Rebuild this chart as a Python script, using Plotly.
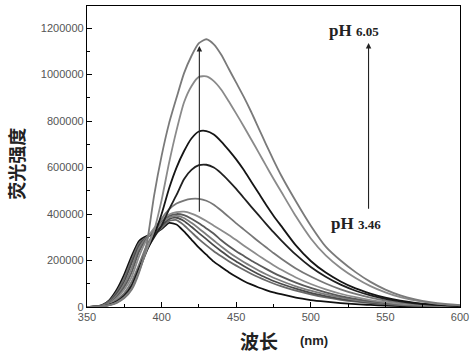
import plotly.graph_objects as go

# wavelengths (nm)
wavelength = [350, 355, 360, 365, 370, 375, 380, 385, 390, 395, 400, 405, 410, 415, 420,
              425, 430, 435, 440, 445, 450, 455, 460, 465, 470, 475, 480, 490, 500, 510,
              520, 530, 540, 550, 560, 570, 580, 590, 600]

# fluorescence intensity, in thousands (pH 3.46 -> pH 6.05)
c1 = [0, 2, 8, 30, 75, 140, 220, 285, 305, 315, 335, 362, 355, 325, 290, 255, 225, 195, 172, 150,
      130, 112, 97, 84, 73, 63, 55, 40, 30, 23, 17, 12, 9, 6, 4, 3, 2, 1, 1]
c2 = [0, 2, 7, 26, 66, 125, 205, 275, 300, 312, 340, 370, 374, 352, 322, 292, 265, 240, 218, 197,
      178, 160, 143, 128, 114, 101, 90, 70, 54, 41, 31, 23, 17, 12, 8, 5, 4, 2, 1]
c3 = [0, 2, 6, 22, 58, 110, 190, 265, 300, 320, 350, 378, 384, 370, 345, 318, 292, 265, 240, 216,
      196, 176, 158, 141, 126, 112, 100, 79, 61, 47, 35, 26, 19, 13, 9, 6, 4, 3, 2]
c4 = [0, 1, 5, 19, 50, 98, 170, 255, 300, 330, 360, 385, 392, 383, 362, 338, 312, 286, 260, 236,
      214, 194, 175, 157, 141, 126, 113, 89, 70, 54, 41, 30, 22, 15, 10, 7, 5, 3, 2]
c5 = [0, 1, 5, 16, 44, 86, 150, 240, 295, 335, 370, 392, 400, 395, 380, 360, 338, 315, 287, 262,
      240, 220, 200, 182, 164, 147, 132, 105, 82, 63, 47, 35, 25, 17, 12, 8, 5, 3, 2]
c6 = [0, 1, 4, 14, 38, 75, 130, 220, 290, 340, 375, 398, 408, 410, 402, 388, 370, 350, 330, 310,
      288, 265, 243, 221, 200, 180, 161, 127, 99, 76, 57, 42, 30, 21, 14, 10, 6, 4, 2]
c7 = [0, 1, 4, 12, 30, 60, 110, 185, 265, 322, 380, 420, 445, 458, 465, 465, 457, 440, 415, 388,
      360, 334, 308, 282, 257, 232, 209, 166, 131, 101, 76, 56, 40, 28, 19, 13, 8, 5, 3]
c8 = [0, 1, 3, 10, 25, 50, 95, 170, 245, 300, 350, 420, 482, 550, 590, 610, 612, 600, 575, 543,
      508, 470, 432, 395, 358, 322, 288, 225, 172, 130, 96, 70, 50, 35, 24, 16, 10, 7, 4]
c9 = [0, 1, 3, 9, 22, 45, 85, 160, 240, 310, 400, 510, 600, 670, 725, 755, 757, 742, 712, 675,
      635, 590, 540, 490, 440, 393, 350, 265, 198, 148, 110, 80, 58, 40, 27, 18, 12, 8, 5]
c10 = [0, 1, 3, 8, 20, 42, 80, 155, 245, 330, 460, 620, 760, 880, 950, 990, 992, 972, 935, 885,
       832, 778, 722, 665, 608, 552, 498, 390, 295, 222, 168, 125, 90, 63, 42, 28, 18, 11, 7]
c11 = [0, 1, 3, 8, 18, 38, 75, 150, 270, 480, 650, 790, 900, 1005, 1080, 1135, 1152, 1130, 1085, 1025,
       965, 905, 840, 770, 700, 632, 568, 455, 350, 260, 200, 150, 108, 75, 50, 33, 21, 13, 8]

series = [c1, c2, c3, c4, c5, c6, c7, c8, c9, c10, c11]
colors = ['#111111', '#6a6a6a', '#4a4a4a', '#7d7d7d', '#5a5a5a', '#8c8c8c',
          '#777777', '#202020', '#151515', '#8a8a8a', '#7a7a7a']

unit = 1000

# annotation labels
ph_low = '3.46'
ph_high = '6.05'
ylabel = '荧光强度'
xlabel = '波长'
xunit = '(nm)'

fig = go.Figure()
for vals, col in zip(series, colors):
    fig.add_trace(go.Scatter(
        x=wavelength, y=[v * unit for v in vals], mode='lines',
        line=dict(color=col, width=1.8, shape='spline', smoothing=0.6),
        showlegend=False, hoverinfo='skip'))

axis_common = dict(
    showline=True, linecolor='black', linewidth=1.3, mirror=True,
    ticks='inside', ticklen=5, tickwidth=1, tickcolor='black',
    showgrid=False, zeroline=False,
    tickfont=dict(family='Liberation Sans, Arial', size=11, color='#555555'),
)

fig.update_layout(
    width=474, height=355,
    margin=dict(l=87, r=12, t=5, b=48),
    paper_bgcolor='white', plot_bgcolor='white',
    xaxis=dict(range=[350, 600], dtick=50, tick0=350,
               minor=dict(ticks='inside', dtick=25, ticklen=3, tickcolor='black'),
               **axis_common),
    yaxis=dict(range=[0, 1295000], dtick=200000, tickformat='d',
               minor=dict(ticks='inside', dtick=100000, ticklen=3, tickcolor='black'),
               **axis_common),
)

annotations = [
    # y-axis title
    dict(text='<b>' + ylabel + '</b>', xref='paper', yref='paper',
         x=(16 - 87) / 375, y=(307 - 163) / 302, textangle=-90, showarrow=False,
         font=dict(family='Noto Sans CJK SC', size=18, color='#222222'),
         xanchor='center', yanchor='middle'),
    # x-axis title
    dict(text='<b>' + xlabel + '</b>', xref='paper', yref='paper',
         x=(260 - 87) / 375, y=(307 - 341) / 302, showarrow=False,
         font=dict(family='Noto Sans CJK SC', size=19, color='#222222'),
         xanchor='center', yanchor='middle'),
    dict(text='<b>' + xunit + '</b>', xref='paper', yref='paper',
         x=(315 - 87) / 375, y=(307 - 341) / 302, showarrow=False,
         font=dict(family='Liberation Sans, Arial', size=13, color='#222222'),
         xanchor='center', yanchor='middle'),
    # pH labels
    dict(text='<b>pH</b> <b><span style="font-size:13px">' + ph_high + '</span></b>',
         xref='paper', yref='paper', x=(355 - 87) / 375, y=(307 - 30) / 302,
         showarrow=False, font=dict(family='Liberation Serif', size=17, color='#222222'),
         xanchor='center', yanchor='middle'),
    dict(text='<b>pH</b> <b><span style="font-size:13px">' + ph_low + '</span></b>',
         xref='paper', yref='paper', x=(357 - 87) / 375, y=(307 - 223) / 302,
         showarrow=False, font=dict(family='Liberation Serif', size=17, color='#222222'),
         xanchor='center', yanchor='middle'),
    # arrows
    dict(x=425.3, y=1123000, ax=425.3, ay=403000, xref='x', yref='y', axref='x', ayref='y',
         text='', showarrow=True, arrowhead=2, arrowsize=1, arrowwidth=1.1, arrowcolor='#222222'),
    dict(x=538.7, y=1136000, ax=538.7, ay=416000, xref='x', yref='y', axref='x', ayref='y',
         text='', showarrow=True, arrowhead=2, arrowsize=1, arrowwidth=1.1, arrowcolor='#222222'),
]
fig.update_layout(annotations=annotations)

fig.write_html('out.html', config={'displayModeBar': False})

# remove the default page margin so the figure fills the window exactly
with open('out.html', 'r', encoding='utf-8') as f:
    html = f.read()
html = html.replace('<head>', '<head><style>html,body{margin:0;padding:0;overflow:hidden;}</style>', 1)
with open('out.html', 'w', encoding='utf-8') as f:
    f.write(html)
